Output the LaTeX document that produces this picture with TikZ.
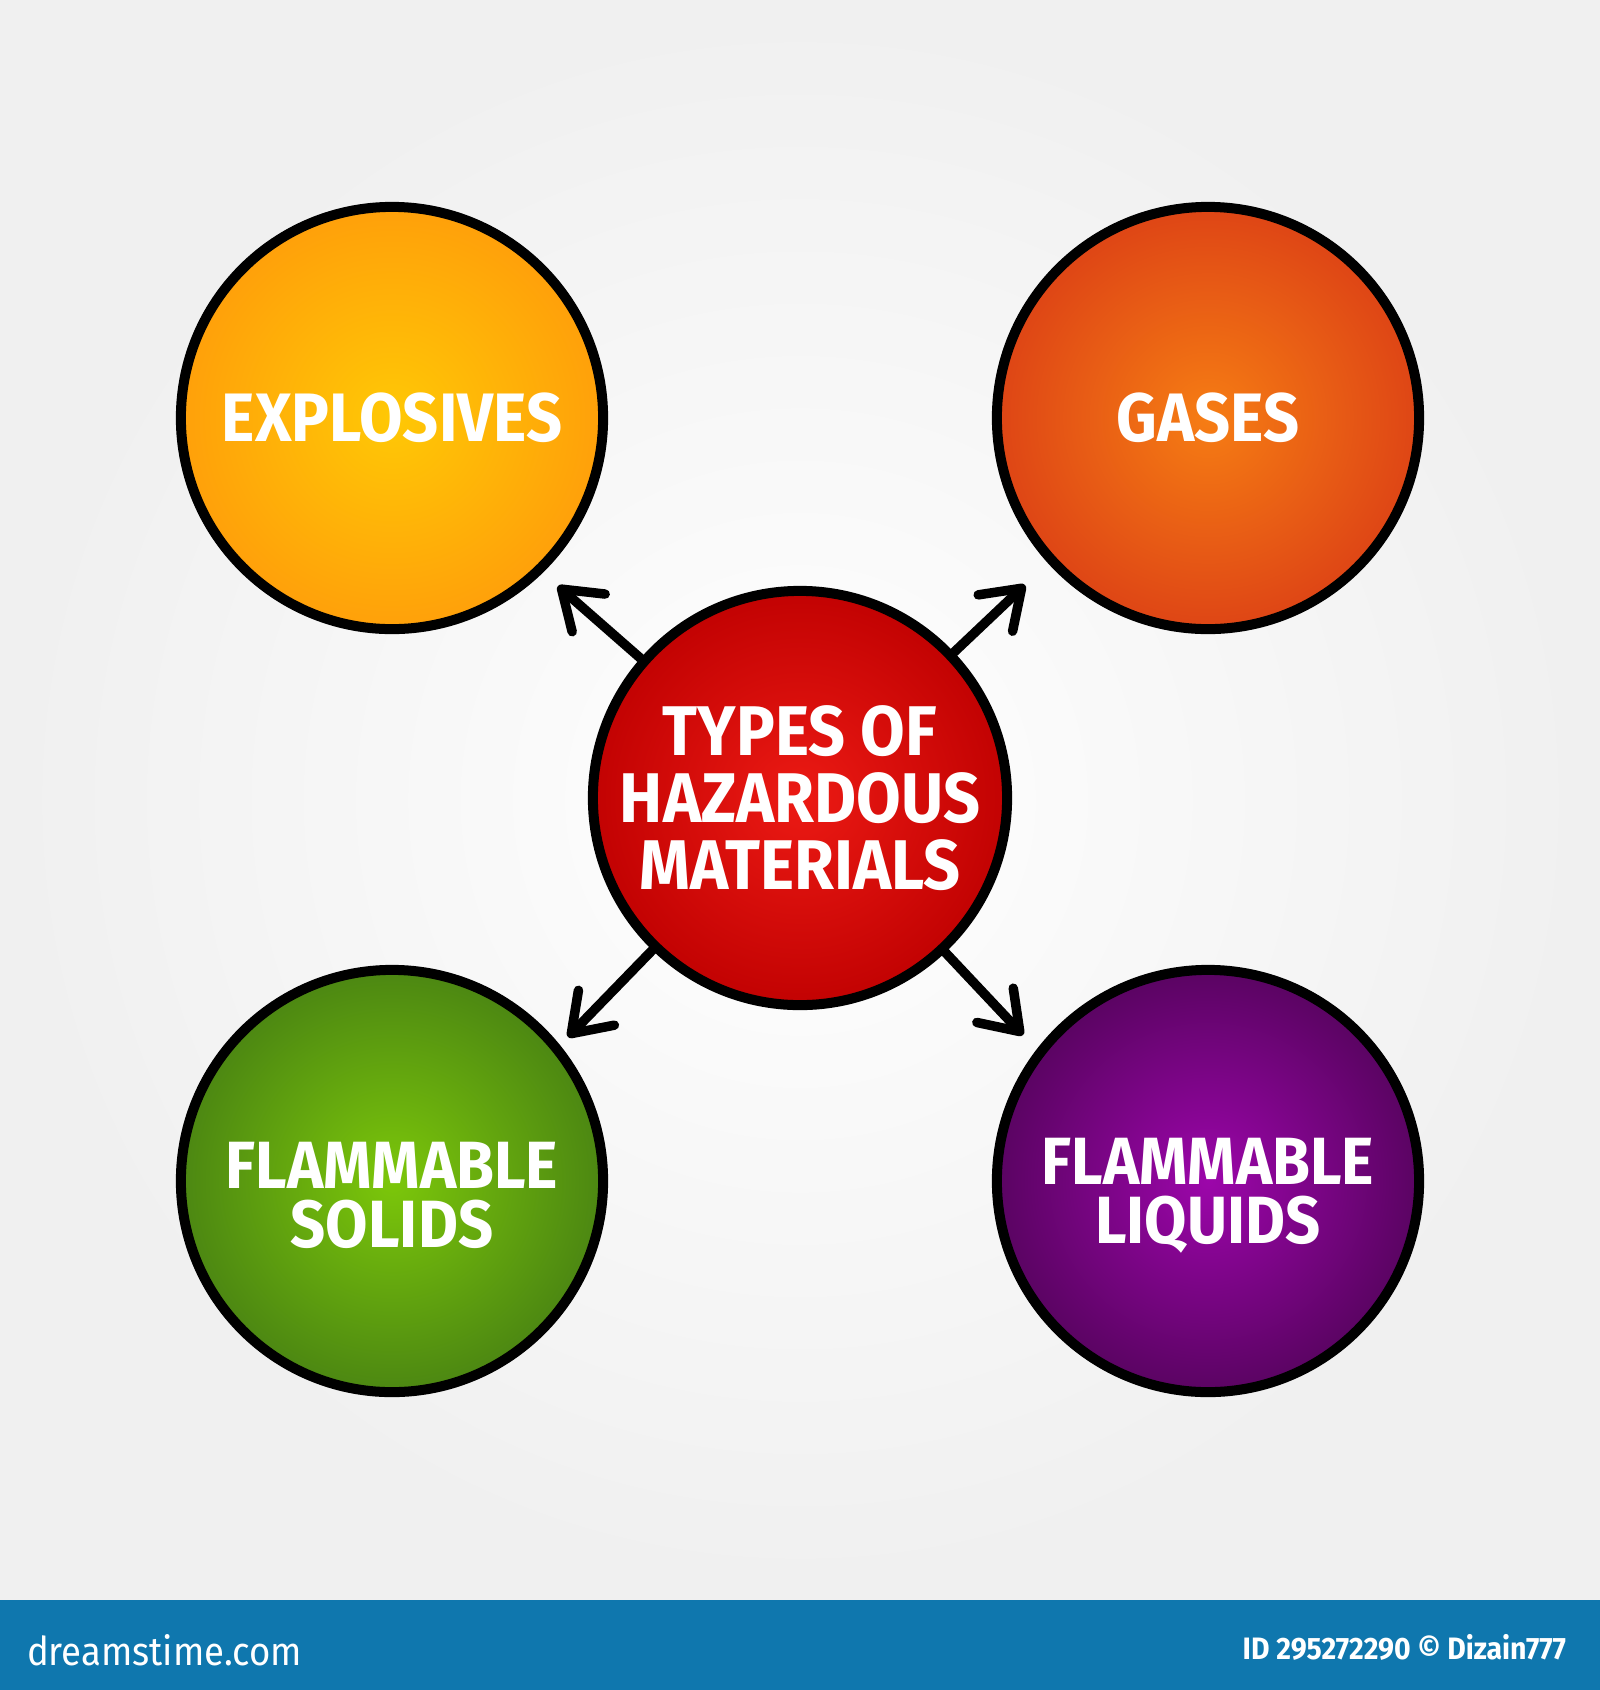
\documentclass[tikz,border=0pt]{standalone}
\usepackage{fontspec}
\usetikzlibrary{arrows.meta, positioning, shapes}
\newfontfamily\labelfont[FakeStretch=0.92]{Fira Sans}
\definecolor{explin}{HTML}{FFC805}
\definecolor{explout}{HTML}{FFA00A}
\definecolor{gasin}{HTML}{F67D14}
\definecolor{gasout}{HTML}{DE4515}
\definecolor{corein}{HTML}{EC1A14}
\definecolor{coreout}{HTML}{C20202}
\definecolor{solidin}{HTML}{7CC70A}
\definecolor{solidout}{HTML}{4C8712}
\definecolor{liquidin}{HTML}{9C06AA}
\definecolor{liquidout}{HTML}{5A0462}
\definecolor{barblue}{HTML}{0F77AE}

\begin{document}
\begin{tikzpicture}[x=0.01cm, y=-0.01cm, line width=0.1cm,
	hazard/.style={circle, draw=black, minimum size=4.22cm, inner sep=0pt, align=center, text=white,
		font=\labelfont\bfseries\fontsize{19.5}{17.2}\selectfont},
	link/.style={-{Straight Barb[length=0.36cm, width=0.5cm, round]}, line width=0.095cm,
		line cap=round}]

	% backdrop and footer
	\useasboundingbox (0,0) rectangle (1600,1690);
	\shade[inner color=white, outer color=black!6] (0,0) rectangle (1600,1600);
	\fill[barblue] (0,1600) rectangle (1600,1690);

	\node[hazard, minimum size=4.14cm, inner color=corein, outer color=coreout,
		font=\labelfont\bfseries\fontsize{20}{19}\selectfont] (core) at (800,798)
		{TYPES OF\\HAZARDOUS\\MATERIALS};

	\foreach \name/\px/\py/\cin/\cout/\txt in {
		expl/392/418/explin/explout/{EXPLOSIVES},
		gas/1208/418/gasin/gasout/{GASES}}
		\node[hazard, inner color=\cin, outer color=\cout] (\name) at (\px,\py) {\txt};
	% two-line labels sit a little below the centre
	\foreach \name/\px/\py/\cin/\cout/\txt in {
		solid/392/1181/solidin/solidout/{FLAMMABLE\\SOLIDS},
		liquid/1208/1181/liquidin/liquidout/{FLAMMABLE\\LIQUIDS}}
		\node[hazard, inner color=\cin, outer color=\cout, font=\labelfont\bfseries\fontsize{19}{16.8}\selectfont]
			(\name) at (\px,\py) {\raisebox{0pt}[21.5pt][0pt]{}\txt};

	% arrow tips stop short of the outer circles
	\foreach \target/\tx/\ty in {tipexpl/558/586, tipgas/1025/585, tipsolid/568/1037, tipliquid/1023/1035} {
		\coordinate (\target) at (\tx,\ty);
		\draw[link] (core) -- (\target);
	}

	\node[anchor=west, inner sep=0pt, text=white, font=\labelfont\fontsize{11.3}{13}\selectfont] (site) at (22,1650) {dreamstime.com};
	\node[anchor=east, inner sep=0pt, text=white, font=\labelfont\bfseries\fontsize{8.8}{10}\selectfont] (credit) at (1571,1647)
		{ID 295272290 \textcopyright{} Dizain777};
\end{tikzpicture}
\end{document}
